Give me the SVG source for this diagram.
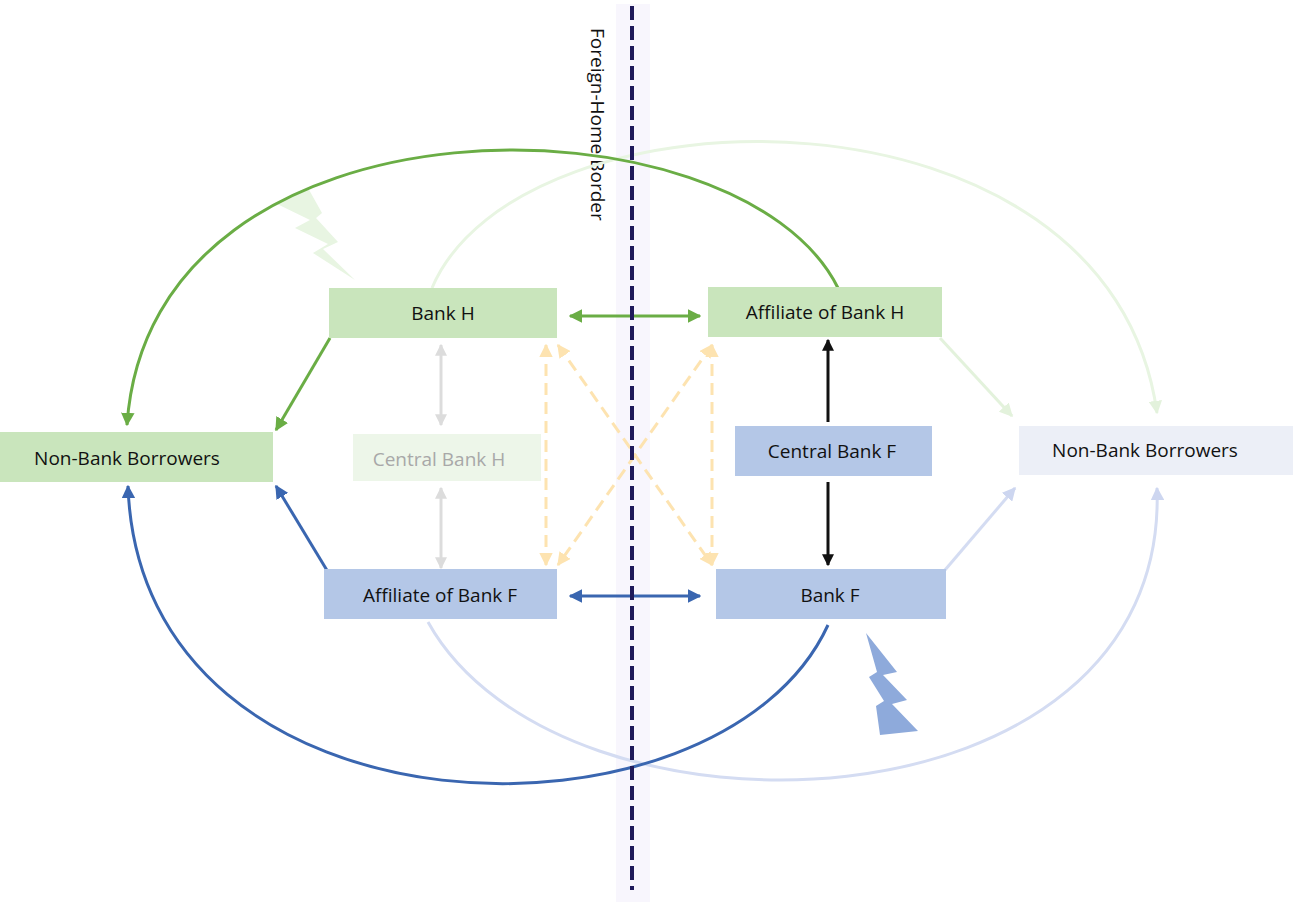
<svg xmlns="http://www.w3.org/2000/svg" width="1296" height="904" viewBox="0 0 1296 904">
<style>
text{font-family:"Open Sans","Noto Sans",sans-serif;font-size:19px;text-anchor:middle;dominant-baseline:central;fill:#111}
.c{fill:none;stroke-width:3}
</style>
<defs>
<marker id="mg" viewBox="0 0 10 10" refX="9" refY="5" markerWidth="4.5" markerHeight="4.5" orient="auto-start-reverse"><path d="M0,0L10,5L0,10z" fill="#6aad45"/></marker>
<marker id="mlg" viewBox="0 0 10 10" refX="9" refY="5" markerWidth="4.5" markerHeight="4.5" orient="auto-start-reverse"><path d="M0,0L10,5L0,10z" fill="#e3f2dc"/></marker>
<marker id="mb" viewBox="0 0 10 10" refX="9" refY="5" markerWidth="4.5" markerHeight="4.5" orient="auto-start-reverse"><path d="M0,0L10,5L0,10z" fill="#3a66b0"/></marker>
<marker id="mlb" viewBox="0 0 10 10" refX="9" refY="5" markerWidth="4.5" markerHeight="4.5" orient="auto-start-reverse"><path d="M0,0L10,5L0,10z" fill="#cdd6f0"/></marker>
<marker id="mk" viewBox="0 0 10 10" refX="9" refY="5" markerWidth="4" markerHeight="4" orient="auto-start-reverse"><path d="M0,0L10,5L0,10z" fill="#111"/></marker>
<marker id="mgr" viewBox="0 0 10 10" refX="9" refY="5" markerWidth="4" markerHeight="4" orient="auto-start-reverse"><path d="M0,0L10,5L0,10z" fill="#dcdcdc"/></marker>
<marker id="my" viewBox="0 0 10 10" refX="9" refY="5" markerWidth="4.5" markerHeight="4.5" orient="auto-start-reverse"><path d="M0,0L10,5L0,10z" fill="#fde3b0"/></marker>
</defs>
<rect x="616" y="4" width="34" height="898" fill="#f8f6fd"/>
<text transform="translate(598,28) rotate(90)" style="text-anchor:start">Foreign-Home Border</text>
<polygon points="275,203 308,188 322,213 316,218 338,242 323,249 355,280 313,253 328,244 295,228 310,220" fill="#e8f5e2"/>
<polygon points="866,633 897,672 883,675 907,700 892,704 918,731 880,735 876,706 884,701 869,677 877,672" fill="#8eaadb"/>
<g id="connectors">
<path class="c" d="M432,288 C520,80 1110,70 1157,413" stroke="#e8f5e2" marker-end="url(#mlg)"/>
<path class="c" d="M428,622 C560,860 1170,840 1157,488" stroke="#d4dcf2" marker-end="url(#mlb)"/>
<path class="c" d="M838,288 C740,90 150,80 127,425" stroke="#6aad45" marker-end="url(#mg)"/>
<path class="c" d="M828,625 C720,860 140,850 128,486" stroke="#3a66b0" marker-end="url(#mb)"/>
<path class="c" d="M330,338 L276,430" stroke="#6aad45" marker-end="url(#mg)"/>
<path class="c" d="M328,572 L276,486" stroke="#3a66b0" marker-end="url(#mb)"/>
<path class="c" d="M940,338 L1012,416" stroke="#e3f2dc" marker-end="url(#mlg)"/>
<path class="c" d="M945,570 L1015,488" stroke="#d4dcf2" marker-end="url(#mlb)"/>
<path class="c" d="M570,316 L700,316" stroke="#6aad45" marker-start="url(#mg)" marker-end="url(#mg)"/>
<path class="c" d="M570,596 L700,596" stroke="#3a66b0" marker-start="url(#mb)" marker-end="url(#mb)"/>
<path class="c" d="M441,345 L441,425" stroke="#dcdcdc" stroke-width="4" marker-start="url(#mgr)" marker-end="url(#mgr)"/>
<path class="c" d="M441,488 L441,568" stroke="#dcdcdc" stroke-width="4" marker-start="url(#mgr)" marker-end="url(#mgr)"/>
<path class="c" d="M828,340 L828,422" stroke="#111" stroke-width="4" marker-start="url(#mk)"/>
<path class="c" d="M828,482 L828,565" stroke="#111" stroke-width="4" marker-end="url(#mk)"/>
<g stroke="#fde3b0" stroke-dasharray="12 7">
<path class="c" d="M546,345 L546,565" marker-start="url(#my)" marker-end="url(#my)"/>
<path class="c" d="M712,345 L712,565" marker-start="url(#my)" marker-end="url(#my)"/>
<path class="c" d="M558,345 L712,565" marker-start="url(#my)" marker-end="url(#my)"/>
<path class="c" d="M712,345 L558,565" marker-start="url(#my)" marker-end="url(#my)"/>
</g>
</g>
<line x1="632" y1="6" x2="632" y2="890" stroke="#1f1a5a" stroke-width="4" stroke-dasharray="14 6"/>
<g id="bankH"><rect x="329" y="288" width="228" height="50" fill="#c9e5bc"/><text x="443" y="313">Bank H</text></g>
<g id="affH"><rect x="708" y="287" width="234" height="50" fill="#c9e5bc"/><text x="825" y="312">Affiliate of Bank H</text></g>
<g id="nbbL"><rect x="0" y="432" width="273" height="50" fill="#c9e5bc"/><text x="127" y="458">Non-Bank Borrowers</text></g>
<g id="cbH"><rect x="353" y="434" width="188" height="47" fill="#edf6e9"/><text x="439" y="459" style="fill:#a8a8a8">Central Bank H</text></g>
<g id="affF"><rect x="324" y="569" width="233" height="50" fill="#b4c7e7"/><text x="440" y="595">Affiliate of Bank F</text></g>
<g id="bankF"><rect x="716" y="569" width="230" height="50" fill="#b4c7e7"/><text x="830" y="595">Bank F</text></g>
<g id="cbF"><rect x="735" y="426" width="197" height="50" fill="#b4c7e7"/><text x="832" y="451">Central Bank F</text></g>
<g id="nbbR"><rect x="1019" y="426" width="274" height="49" fill="#eceff7"/><text x="1145" y="450">Non-Bank Borrowers</text></g>
</svg>
